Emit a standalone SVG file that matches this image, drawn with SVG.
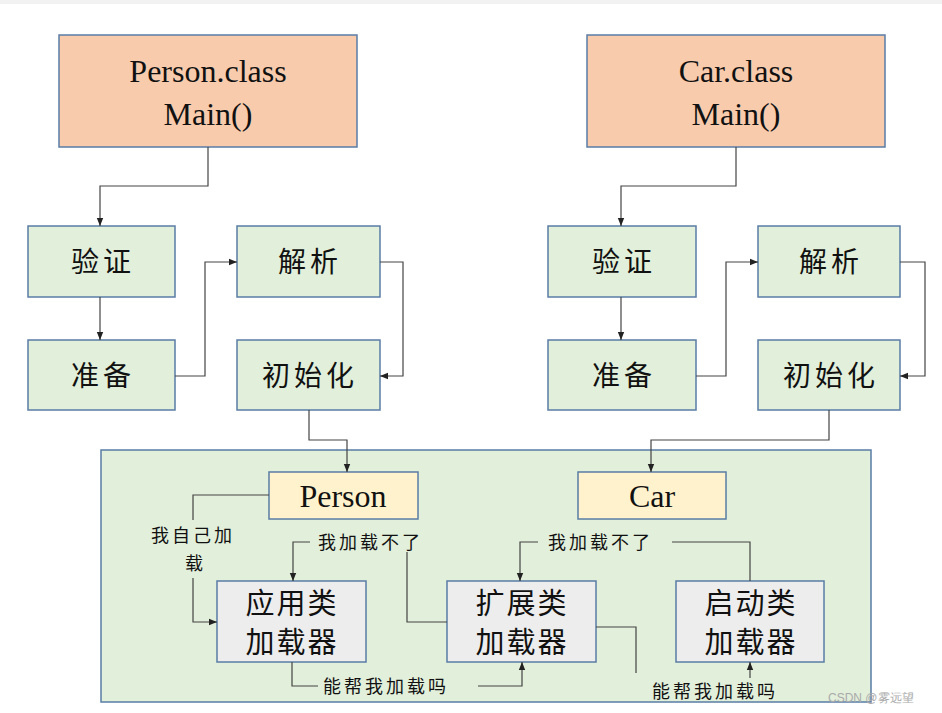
<svg xmlns="http://www.w3.org/2000/svg" width="942" height="713" viewBox="0 0 942 713">
<defs>
<marker id="a" viewBox="0 0 10 10" refX="10" refY="5" markerWidth="7" markerHeight="7" orient="auto"><path d="M0,1L10,5L0,9z" fill="#222"/></marker>
<style>
.o{fill:#f8cbad;stroke:#5a7ca6;stroke-width:1.5}
.g{fill:#e2efda;stroke:#5a7ca6;stroke-width:1.5}
.y{fill:#fff2cc;stroke:#5a7ca6;stroke-width:1.5}
.k{fill:#ededed;stroke:#5a7ca6;stroke-width:1.5}
.big{font-family:"Liberation Serif",serif;font-size:32px;text-anchor:middle;fill:#111}
.cn{font-family:"Noto Sans CJK SC",sans-serif;font-size:28px;letter-spacing:4px;text-anchor:middle;fill:#111}
.cl{font-family:"Noto Sans CJK SC",sans-serif;font-size:29px;letter-spacing:2px;text-anchor:middle;fill:#111}
.lb{font-family:"Noto Sans CJK SC",sans-serif;font-size:18px;letter-spacing:3px;fill:#111}
.c{fill:none;stroke:#444;stroke-width:1.2}
.ca{fill:none;stroke:#444;stroke-width:1.2;marker-end:url(#a)}
</style>
</defs>
<rect width="942" height="713" fill="#fff"/>
<rect x="0" y="0" width="942" height="4" fill="#f2f2f2"/>
<g id="container"><rect class="g" x="101" y="450" width="770" height="252"/></g>
<g id="personclass"><rect class="o" x="59" y="35" width="298" height="112"/><text class="big" x="208" y="82">Person.class</text><text class="big" x="208" y="125">Main()</text></g>
<g id="carclass"><rect class="o" x="587" y="35" width="298" height="112"/><text class="big" x="736" y="82">Car.class</text><text class="big" x="736" y="125">Main()</text></g>
<g id="l-yz"><rect class="g" x="28" y="226" width="147" height="71"/><text class="cn" x="103" y="272">验证</text></g>
<g id="l-jx"><rect class="g" x="237" y="226" width="143" height="71"/><text class="cn" x="310" y="272">解析</text></g>
<g id="l-zb"><rect class="g" x="28" y="340" width="147" height="70"/><text class="cn" x="103" y="386">准备</text></g>
<g id="l-csh"><rect class="g" x="237" y="340" width="143" height="70"/><text class="cn" x="310" y="386">初始化</text></g>
<g id="r-yz"><rect class="g" x="548" y="226" width="148" height="71"/><text class="cn" x="624" y="272">验证</text></g>
<g id="r-jx"><rect class="g" x="758" y="226" width="142" height="71"/><text class="cn" x="831" y="272">解析</text></g>
<g id="r-zb"><rect class="g" x="548" y="340" width="148" height="70"/><text class="cn" x="624" y="386">准备</text></g>
<g id="r-csh"><rect class="g" x="758" y="340" width="142" height="70"/><text class="cn" x="831" y="386">初始化</text></g>
<g id="person"><rect class="y" x="269" y="472" width="149" height="47"/><text class="big" x="343" y="507">Person</text></g>
<g id="car"><rect class="y" x="578" y="472" width="148" height="47"/><text class="big" x="652" y="507">Car</text></g>
<g id="app"><rect class="k" x="217" y="581" width="149" height="81"/><text class="cl" x="292" y="614">应用类</text><text class="cl" x="292" y="653">加载器</text></g>
<g id="ext"><rect class="k" x="447" y="581" width="149" height="81"/><text class="cl" x="522" y="614">扩展类</text><text class="cl" x="522" y="653">加载器</text></g>
<g id="boot"><rect class="k" x="676" y="581" width="148" height="81"/><text class="cl" x="751" y="614">启动类</text><text class="cl" x="751" y="653">加载器</text></g>
<g id="connectors">
<polyline class="ca" points="208,147 208,186 100,186 100,226"/>
<polyline class="ca" points="100,297 100,340"/>
<polyline class="ca" points="175,376 205,376 205,262 237,262"/>
<polyline class="ca" points="380,262 403,262 403,376 380,376"/>
<polyline class="ca" points="309,410 309,440 347,440 347,472"/>
<polyline class="ca" points="736,147 736,186 621,186 621,226"/>
<polyline class="ca" points="621,297 621,340"/>
<polyline class="ca" points="696,376 726,376 726,262 758,262"/>
<polyline class="ca" points="900,262 925,262 925,376 900,376"/>
<polyline class="ca" points="829,410 829,440 651,440 651,472"/>
<polyline class="c" points="269,495 193,495 193,520"/>
<polyline class="ca" points="193,578 193,622 217,622"/>
<polyline class="c" points="447,622 407,622 407,552"/>
<polyline class="ca" points="310,542 293,542 293,581"/>
<polyline class="c" points="750,581 750,542 672,542"/>
<polyline class="ca" points="538,542 520,542 520,581"/>
<polyline class="c" points="292,662 292,686 318,686"/>
<polyline class="ca" points="478,686 522,686 522,662"/>
<polyline class="c" points="596,627 636,627 636,673"/>
<polyline class="ca" points="750,678 750,662"/>
<text class="lb" x="151" y="542">我自己加</text>
<text class="lb" x="185" y="570">载</text>
<text class="lb" x="318" y="549">我加载不了</text>
<text class="lb" x="548" y="549">我加载不了</text>
<text class="lb" x="323" y="693">能帮我加载吗</text>
<text class="lb" x="652" y="698">能帮我加载吗</text>
</g>
<text x="828" y="702" font-family="Liberation Sans,sans-serif" font-size="12" fill="#aaa">CSDN @雾远望</text>
</svg>
